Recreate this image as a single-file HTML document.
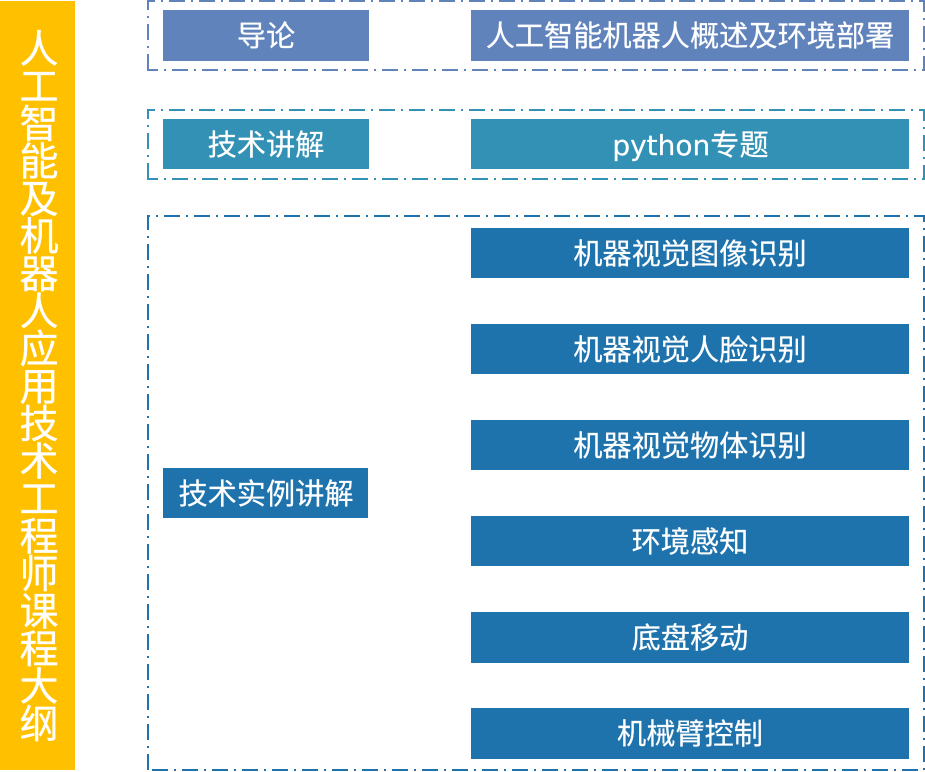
<!DOCTYPE html>
<html lang="zh">
<head>
<meta charset="utf-8">
<title>人工智能及机器人应用技术工程师课程大纲</title>
<style>
html,body{margin:0;padding:0;width:925px;height:772px;overflow:hidden;background:#fff}
svg{display:block}
text{font-family:"Liberation Sans","Noto Sans CJK SC",sans-serif;fill:#fff;stroke:#fff;stroke-width:.2px;text-anchor:middle;font-size:29.2px}
.py{font-family:"DejaVu Sans","Noto Sans CJK SC",sans-serif;font-size:28px}
.v{font-size:39px;stroke-width:.3px}
.dash{fill:none;stroke-width:2;stroke-dasharray:16 6 2 6}
</style>
</head>
<body>
<svg width="925" height="772" viewBox="0 0 925 772" xmlns="http://www.w3.org/2000/svg">
<rect x="0" y="1" width="75" height="769" fill="#FFC000"/>
<text class="v" x="39" y="63">人</text>
<text class="v" x="39" y="100.5">工</text>
<text class="v" x="39" y="138">智</text>
<text class="v" x="39" y="175.5">能</text>
<text class="v" x="39" y="213">及</text>
<text class="v" x="39" y="250.5">机</text>
<text class="v" x="39" y="288">器</text>
<text class="v" x="39" y="325.5">人</text>
<text class="v" x="39" y="363">应</text>
<text class="v" x="39" y="400.5">用</text>
<text class="v" x="39" y="438">技</text>
<text class="v" x="39" y="475.5">术</text>
<text class="v" x="39" y="513">工</text>
<text class="v" x="39" y="550.5">程</text>
<text class="v" x="39" y="588">师</text>
<text class="v" x="39" y="625.5">课</text>
<text class="v" x="39" y="663">程</text>
<text class="v" x="39" y="700.5">大</text>
<text class="v" x="39" y="738">纲</text>

<path class="dash" d="M148 70V1H924V70Z" stroke="#6083BC"/>
<path class="dash" d="M148 179V110H924V179Z" stroke="#3391B5"/>
<path class="dash" d="M148 770V216H924V770Z" stroke="#1F73AD"/>

<rect x="163" y="10" width="206" height="51" fill="#6083BC"/>
<text x="266" y="46">导论</text>
<rect x="471" y="10" width="438" height="51" fill="#6083BC"/>
<text x="690" y="46">人工智能机器人概述及环境部署</text>

<rect x="163" y="119" width="206" height="50" fill="#3391B5"/>
<text x="266" y="155">技术讲解</text>
<rect x="471" y="119" width="438" height="50" fill="#3391B5"/>
<text x="690.5" y="155"><tspan class="py">python</tspan>专题</text>

<rect x="163" y="468" width="205" height="50" fill="#1F73AD"/>
<text x="266" y="504">技术实例讲解</text>

<rect x="471" y="228" width="438" height="50" fill="#1F73AD"/>
<text x="690" y="264">机器视觉图像识别</text>
<rect x="471" y="324" width="438" height="50" fill="#1F73AD"/>
<text x="690" y="360">机器视觉人脸识别</text>
<rect x="471" y="420" width="438" height="50" fill="#1F73AD"/>
<text x="690" y="456">机器视觉物体识别</text>
<rect x="471" y="516" width="438" height="50" fill="#1F73AD"/>
<text x="690" y="552">环境感知</text>
<rect x="471" y="612" width="438" height="51" fill="#1F73AD"/>
<text x="690" y="648">底盘移动</text>
<rect x="471" y="708" width="438" height="51" fill="#1F73AD"/>
<text x="690" y="744">机械臂控制</text>
</svg>
</body>
</html>
